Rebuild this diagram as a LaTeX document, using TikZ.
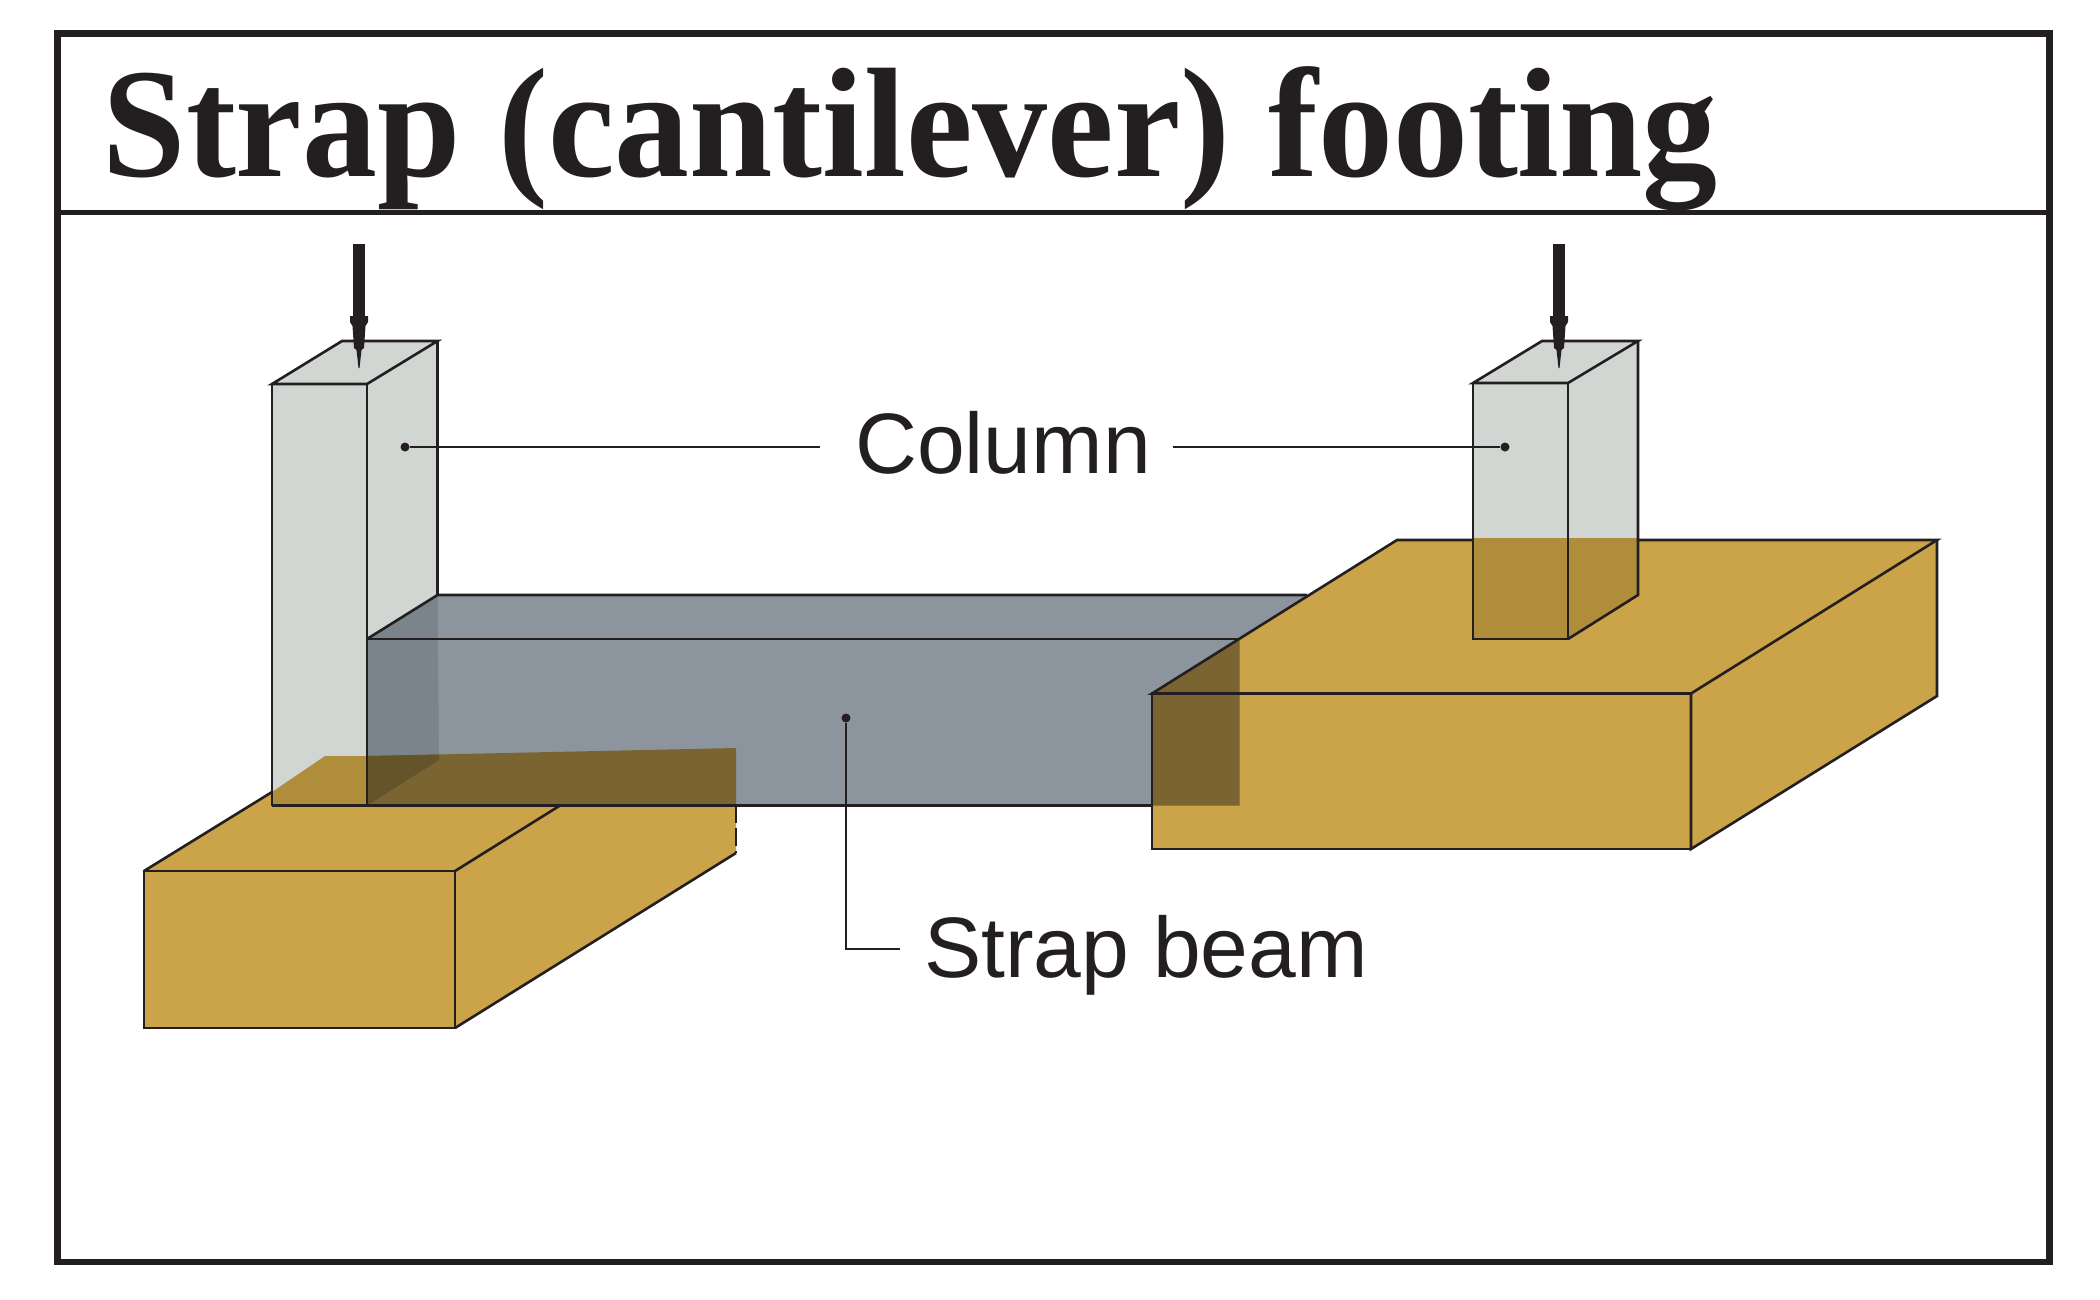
\documentclass[tikz,border=0pt]{standalone}
\usepackage{fontspec}
\setmainfont{Liberation Sans}
\newfontfamily\titlefont{Liberation Serif}
\definecolor{ink}{HTML}{231F20}
\definecolor{concrete}{HTML}{D2D6D3}
\definecolor{strapc}{HTML}{8C959E}
\definecolor{strapcol}{HTML}{7B848B}
\definecolor{soil}{HTML}{CBA348}
\definecolor{soilcol}{HTML}{B08D3B}
\definecolor{soilstrap}{HTML}{7A6431}
\definecolor{soilall}{HTML}{655429}

\begin{document}
\begin{tikzpicture}[x=0.01cm,y=-0.01cm,
        edge/.style={draw=ink,line width=0.026cm,line join=miter},
        leader/.style={draw=ink,line width=0.026cm},
        load/.pic={\fill[ink] (-5.8,0) -- (5.8,0) -- (5.8,72) -- (9,72) -- (9,78) -- (6.5,82) -- (5,104) -- (2.5,106) -- (0.5,124)
                -- (-0.5,124) -- (-2.5,106) -- (-5,104) -- (-6.5,82) -- (-9,78) -- (-9,72) -- (-5.8,72) -- cycle;},
        pin/.style={circle,fill=ink,inner sep=0pt,minimum size=0.09cm},
        label/.style={font=\fontsize{24.4}{29}\selectfont,text=ink,anchor=base,inner ysep=0pt}]
        \useasboundingbox (0,0) rectangle (2100,1299);

        % frame and title
        \draw[ink,line width=0.065cm] (57.5,33.5) rectangle (2049.5,1262);
        \draw[ink,line width=0.05cm] (57,212) -- (2049,212);
        \node[font=\titlefont\bfseries\fontsize{44.4}{50}\selectfont,text=ink,anchor=base west,inner sep=0pt,xscale=0.96] (title) at (102,176) {Strap (cantilever) footing};

        % left column
        \fill[concrete] (272,384) -- (342,341) -- (437.5,341) -- (437.5,595) -- (367,639) -- (367,805.5) -- (272,805.5) -- cycle;
        \path[edge] (272,384) -- (342,341) -- (437.5,341) -- (367,384) -- cycle;
        \path[edge] (272,384) -- (272,805.5) -- (367,805.5) -- (367,384);
        \path[edge] (437.5,341) -- (437.5,595);

        % beam
        \fill[strapc] (367,639) -- (437.5,595) -- (1307,595) -- (1239.5,639) -- (1239.5,805.5) -- (367,805.5) -- cycle;
        \fill[strapcol] (367,639) -- (437.5,595) -- (439,760) -- (367,805.5) -- cycle;
        \path[edge] (367,639) -- (437.5,595) -- (1307,595);
        \path[edge] (367,639) -- (1239.5,639);
        \path[edge] (367,639) -- (367,805.5) -- (1152,805.5);

        % left footing
        \fill[soil] (144,871) -- (272,792) -- (272,805.5) -- (736,805.5) -- (736,853) -- (455,1028) -- (144,1028) -- cycle;
        \fill[soilcol] (272,792) -- (325,756) -- (367,756) -- (367,805.5) -- (272,805.5) -- cycle;
        \fill[soilstrap] (367,756) -- (736,748) -- (736,805.5) -- (367,805.5) -- cycle;
        \fill[soilall] (367,756) -- (439,754.5) -- (439,760) -- (367,805.5) -- cycle;
        \path[edge] (144,871) -- (272,792);
        \path[edge] (144,871) rectangle (455,1028);
        \path[edge] (455,871) -- (560,805.5);
        \path[edge] (455,1028) -- (736,853);
        \path[edge,dash pattern=on 5pt off 1.5pt] (736,805.5) -- (736,853);
        \path[edge] (272,805.5) -- (1152,805.5);
        \path[edge] (272,760) -- (272,805.5) (367,756) -- (367,805.5);

        % right footing
        \fill[soil] (1152,693.5) -- (1397,540) -- (1937,540) -- (1937,696) -- (1691,849) -- (1152,849) -- cycle;
        \fill[soilstrap] (1152,693.5) -- (1239.5,639) -- (1239.5,805.5) -- (1152,805.5) -- cycle;
        \path[edge] (1152,693.5) -- (1397,540) -- (1937,540) -- (1691,693.5) -- cycle;
        \path[edge] (1152,693.5) rectangle (1691,849);
        \path[edge] (1691,693.5) -- (1691,849) -- (1937,696) -- (1937,540);

        % right column
        \fill[concrete] (1473,383) -- (1542,341) -- (1638,341) -- (1638,538) -- (1473,538) -- cycle;
        \fill[soilcol] (1473,538) -- (1638,538) -- (1638,595) -- (1568,639) -- (1473,639) -- cycle;
        \path[edge] (1473,383) -- (1542,341) -- (1638,341) -- (1568,383) -- cycle;
        \path[edge] (1473,383) -- (1473,639) -- (1568,639) -- (1568,383);
        \path[edge] (1638,341) -- (1638,595) -- (1568,639);

        % loads
        \pic at (359,244) {load};
        \pic at (1559,244) {load};

        % labels
        \node[pin] (dotL) at (405,447) {};
        \node[pin] (dotR) at (1505,447) {};
        \node[pin] (dotB) at (846,718) {};
        \node[label,inner xsep=0.21cm] (column) at (1003,473) {Column};
        \node[label,inner xsep=0.233cm] (strap) at (1146,977) {Strap beam};
        \path[leader,shorten >=0.13cm] (dotL) -- (column.west |- dotL);
        \path[leader] (column.east |- dotR) -- (dotR);
        \path[leader] (dotB) |- (strap.west |- 0,949);
\end{tikzpicture}
\end{document}
